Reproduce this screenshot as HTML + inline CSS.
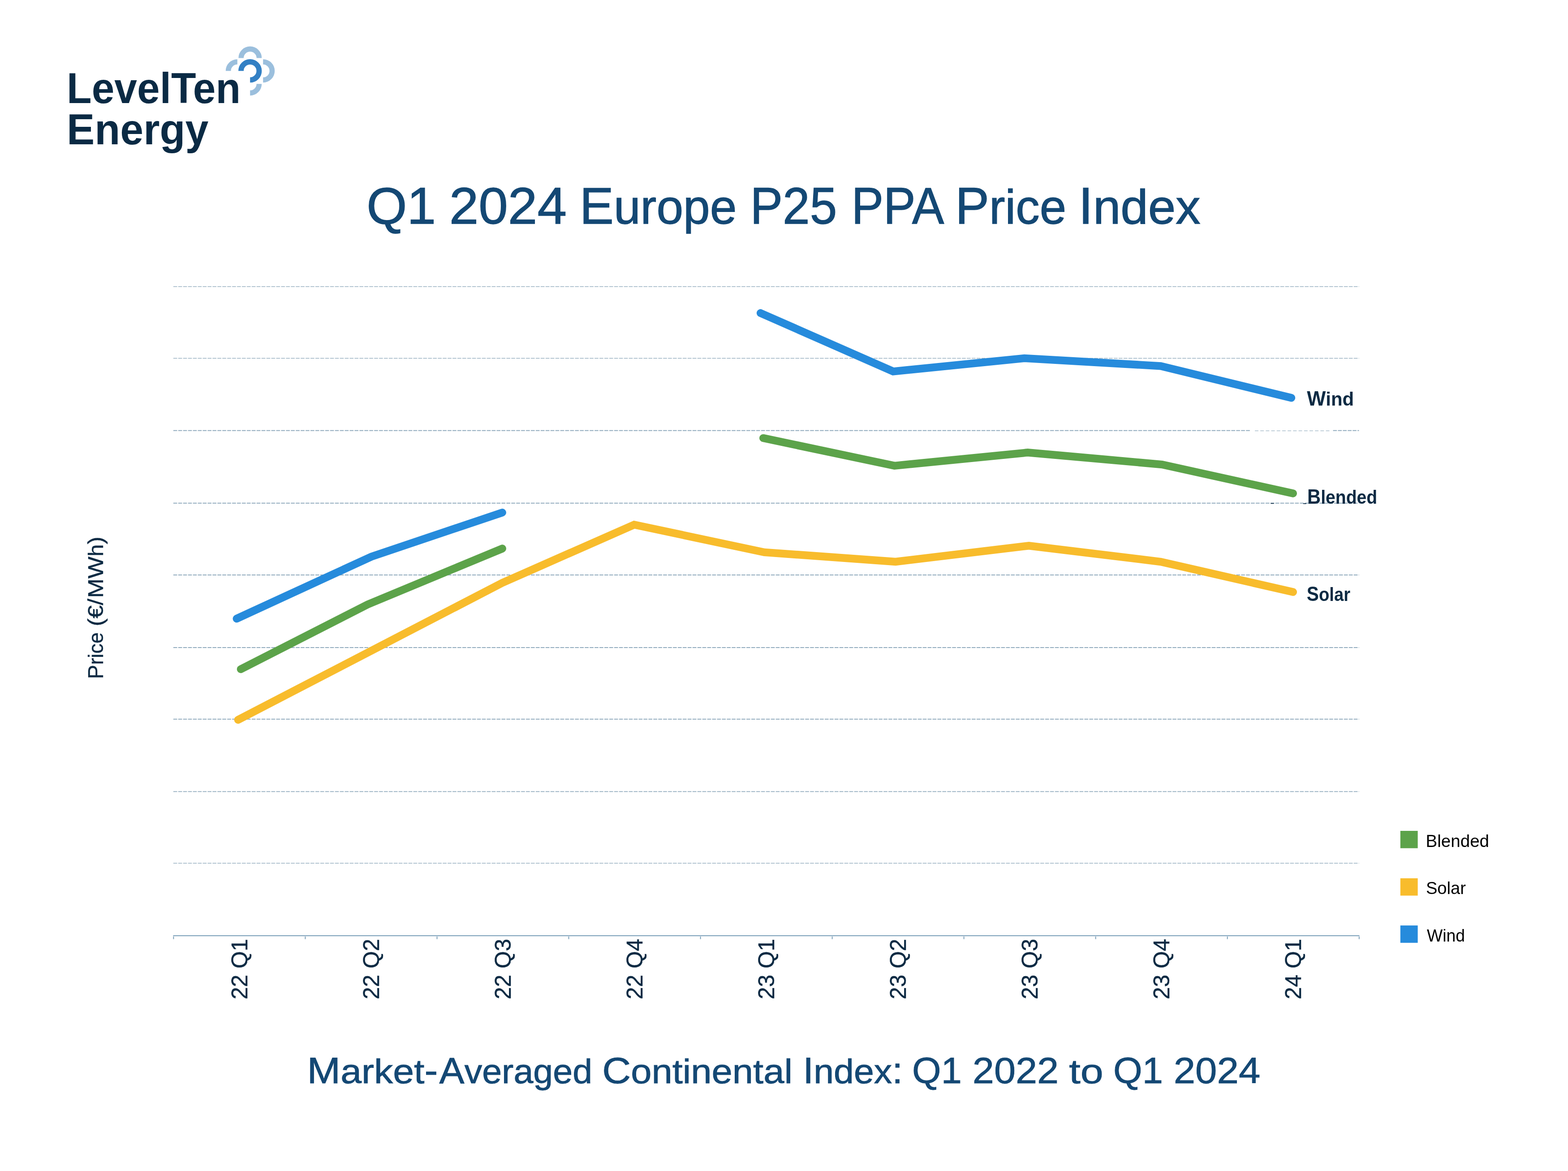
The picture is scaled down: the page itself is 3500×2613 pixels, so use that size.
<!DOCTYPE html>
<html lang="en"><head><meta charset="utf-8"><title>Q1 2024 Europe P25 PPA Price Index</title>
<style>html,body{margin:0;padding:0;background:#fff;}svg{display:block;}text{font-family:"Liberation Sans",sans-serif;}</style></head><body>
<svg width="3500" height="2613" viewBox="0 0 3500 2613">
<rect width="3500" height="2613" fill="#fff"/>
<g fill="none" stroke-dasharray="8.6 2.333">
<line x1="386.9" x2="3033.5" y1="639.4" y2="639.4" stroke="#92acbe" stroke-width="1.5" stroke-opacity="0.95"/>
<line x1="386.9" x2="3033.5" y1="799.4" y2="799.4" stroke="#92acbe" stroke-width="1.5" stroke-opacity="0.95"/>
<line x1="386.9" x2="2792" y1="960.8" y2="960.8" stroke="#92acbe" stroke-width="2" stroke-opacity="1"/>
<line x1="2801" x2="2972" y1="961.4" y2="961.4" stroke="#92acbe" stroke-width="1.1" stroke-opacity="0.9" stroke-dasharray="7.9 4.3"/>
<line x1="2975.5" x2="3033.5" y1="960.8" y2="960.8" stroke="#92acbe" stroke-width="2" stroke-opacity="1"/>
<line x1="386.9" x2="3033.5" y1="1122.7" y2="1122.7" stroke="#92acbe" stroke-width="2" stroke-opacity="1"/>
<line x1="386.9" x2="3033.5" y1="1282.9" y2="1282.9" stroke="#92acbe" stroke-width="2" stroke-opacity="1"/>
<line x1="386.9" x2="3033.5" y1="1444.9" y2="1444.9" stroke="#92acbe" stroke-width="2" stroke-opacity="1"/>
<line x1="386.9" x2="3033.5" y1="1604.8" y2="1604.8" stroke="#92acbe" stroke-width="2" stroke-opacity="1"/>
<line x1="386.9" x2="3033.5" y1="1766.4" y2="1766.4" stroke="#92acbe" stroke-width="1.7" stroke-opacity="1"/>
<line x1="386.9" x2="3033.5" y1="1926.3" y2="1926.3" stroke="#92acbe" stroke-width="1.5" stroke-opacity="0.95"/>
</g>
<rect x="2909" y="1123" width="7" height="1.6" fill="#0c2a43"/><rect x="2836.5" y="1122.6" width="7" height="1.6" fill="#0c2a43"/>
<line x1="386.4" x2="3034.5" y1="2087.9" y2="2087.9" stroke="#7a9fb9" stroke-width="2"/>
<line x1="387.4" x2="387.4" y1="2089.8" y2="2095.6" stroke="#7a9fb9" stroke-width="2"/>
<line x1="681.4" x2="681.4" y1="2089.8" y2="2095.6" stroke="#7a9fb9" stroke-width="2"/>
<line x1="975.5" x2="975.5" y1="2089.8" y2="2095.6" stroke="#7a9fb9" stroke-width="2"/>
<line x1="1269.5" x2="1269.5" y1="2089.8" y2="2095.6" stroke="#7a9fb9" stroke-width="2"/>
<line x1="1563.6" x2="1563.6" y1="2089.8" y2="2095.6" stroke="#7a9fb9" stroke-width="2"/>
<line x1="1857.6" x2="1857.6" y1="2089.8" y2="2095.6" stroke="#7a9fb9" stroke-width="2"/>
<line x1="2151.6" x2="2151.6" y1="2089.8" y2="2095.6" stroke="#7a9fb9" stroke-width="2"/>
<line x1="2445.7" x2="2445.7" y1="2089.8" y2="2095.6" stroke="#7a9fb9" stroke-width="2"/>
<line x1="2739.7" x2="2739.7" y1="2089.8" y2="2095.6" stroke="#7a9fb9" stroke-width="2"/>
<line x1="3033.8" x2="3033.8" y1="2089.8" y2="2095.6" stroke="#7a9fb9" stroke-width="2"/>
<g fill="none" stroke-width="17.4" stroke-linecap="round" stroke-linejoin="miter">
<polyline points="528.3,1380.5 829.2,1242.0 1121.2,1143.7" stroke="#268bdc"/>
<polyline points="537.5,1493.3 820.7,1348.8 1121.2,1224.1" stroke="#5ca34a"/>
<polyline points="531.4,1606.2 1121.2,1300.6 1415.6,1170.8 1706.2,1232.4 1999,1253.4 2296.7,1217.8 2590.9,1253.5 2886.3,1321.1" stroke="#f8bc2c"/>
<polyline points="1697.6,698.6 1993.6,828.8 2286.5,799.4 2590.9,816.8 2882.5,887.8" stroke="#268bdc"/>
<polyline points="1703.7,977.6 1996.6,1039.3 2294,1009.8 2593.9,1036.5 2886.3,1101" stroke="#5ca34a"/>
</g>
<g style="will-change:transform">
<text x="818.33" y="499.15" font-size="115.41" font-weight="normal" fill="#144874" stroke="#144874" stroke-width="1.3" textLength="154.67" lengthAdjust="spacingAndGlyphs">Q1</text>
<text x="1002.66" y="499.15" font-size="115.41" font-weight="normal" fill="#144874" stroke="#144874" stroke-width="1.3" textLength="262.33" lengthAdjust="spacingAndGlyphs">2024</text>
<text x="1293.64" y="499.15" font-size="115.41" font-weight="normal" fill="#144874" stroke="#144874" stroke-width="1.3" textLength="350.96" lengthAdjust="spacingAndGlyphs">E<tspan font-size="108.48">urope</tspan></text>
<text x="1674.43" y="499.15" font-size="115.41" font-weight="normal" fill="#144874" stroke="#144874" stroke-width="1.3" textLength="193.85" lengthAdjust="spacingAndGlyphs">P25</text>
<text x="1900.42" y="499.15" font-size="115.41" font-weight="normal" fill="#144874" stroke="#144874" stroke-width="1.3" textLength="207.06" lengthAdjust="spacingAndGlyphs">PPA</text>
<text x="2132.29" y="499.15" font-size="115.41" font-weight="normal" fill="#144874" stroke="#144874" stroke-width="1.3" textLength="247.81" lengthAdjust="spacingAndGlyphs">P<tspan font-size="108.48">rice</tspan></text>
<text x="2407.19" y="499.15" font-size="115.41" font-weight="normal" fill="#144874" stroke="#144874" stroke-width="1.3" textLength="272.36" lengthAdjust="spacingAndGlyphs">I<tspan font-size="108.48">ndex</tspan></text>
<text x="685.57" y="2416.95" font-size="81.11" font-weight="normal" fill="#144874" stroke="#144874" stroke-width="0.9" textLength="291.67" lengthAdjust="spacingAndGlyphs">M<tspan font-size="76.24">arket</tspan>-</text>
<text x="980.61" y="2416.95" font-size="81.11" font-weight="normal" fill="#144874" stroke="#144874" stroke-width="0.9" textLength="341.58" lengthAdjust="spacingAndGlyphs">A<tspan font-size="76.24">veraged</tspan></text>
<text x="1344.24" y="2416.95" font-size="81.11" font-weight="normal" fill="#144874" stroke="#144874" stroke-width="0.9" textLength="424.75" lengthAdjust="spacingAndGlyphs">C<tspan font-size="76.24">ontinental</tspan></text>
<text x="1792.35" y="2416.95" font-size="81.11" font-weight="normal" fill="#144874" stroke="#144874" stroke-width="0.9" textLength="222.65" lengthAdjust="spacingAndGlyphs">I<tspan font-size="76.24">ndex</tspan>:</text>
<text x="2036.14" y="2416.95" font-size="81.11" font-weight="normal" fill="#144874" stroke="#144874" stroke-width="0.9" textLength="110.77" lengthAdjust="spacingAndGlyphs">Q1</text>
<text x="2170.82" y="2416.95" font-size="81.11" font-weight="normal" fill="#144874" stroke="#144874" stroke-width="0.9" textLength="192.36" lengthAdjust="spacingAndGlyphs">2022</text>
<text x="2386.23" y="2416.95" font-size="81.11" font-weight="normal" fill="#144874" stroke="#144874" stroke-width="0.9" textLength="76.46" lengthAdjust="spacingAndGlyphs"><tspan font-size="76.24">to</tspan></text>
<text x="2484.96" y="2416.95" font-size="81.11" font-weight="normal" fill="#144874" stroke="#144874" stroke-width="0.9" textLength="110.93" lengthAdjust="spacingAndGlyphs">Q1</text>
<text x="2619.73" y="2416.95" font-size="81.11" font-weight="normal" fill="#144874" stroke="#144874" stroke-width="0.9" textLength="193.59" lengthAdjust="spacingAndGlyphs">2024</text>
<text x="2917.17" y="904.70" font-size="45.93" font-weight="bold" fill="#0c2a43" textLength="104.99" lengthAdjust="spacingAndGlyphs">W<tspan font-size="43.18">ind</tspan></text>
<text x="2918.10" y="1123.80" font-size="45.93" font-weight="bold" fill="#0c2a43" textLength="156.05" lengthAdjust="spacingAndGlyphs">B<tspan font-size="43.18">lended</tspan></text>
<text x="2916.86" y="1340.60" font-size="45.79" font-weight="bold" fill="#0c2a43" textLength="97.14" lengthAdjust="spacingAndGlyphs">S<tspan font-size="43.04">olar</tspan></text>
<text x="3182.59" y="1889.90" font-size="38.95" font-weight="normal" fill="#000" textLength="141.49" lengthAdjust="spacingAndGlyphs">Blended</text>
<text x="3182.93" y="1995.40" font-size="38.95" font-weight="normal" fill="#000" textLength="89.09" lengthAdjust="spacingAndGlyphs">Solar</text>
<text x="3184.96" y="2100.90" font-size="38.95" font-weight="normal" fill="#000" textLength="85.08" lengthAdjust="spacingAndGlyphs">Wind</text>
<text transform="translate(552.0,2230.1) rotate(-90)" font-size="49.42" fill="#0c2a43" stroke="#0c2a43" stroke-width="0.5" textLength="135.2" lengthAdjust="spacingAndGlyphs">22 Q1</text>
<text transform="translate(846.1,2230.1) rotate(-90)" font-size="49.42" fill="#0c2a43" stroke="#0c2a43" stroke-width="0.5" textLength="135.3" lengthAdjust="spacingAndGlyphs">22 Q2</text>
<text transform="translate(1140.1,2230.1) rotate(-90)" font-size="49.42" fill="#0c2a43" stroke="#0c2a43" stroke-width="0.5" textLength="135.2" lengthAdjust="spacingAndGlyphs">22 Q3</text>
<text transform="translate(1434.1,2230.1) rotate(-90)" font-size="49.42" fill="#0c2a43" stroke="#0c2a43" stroke-width="0.5" textLength="135.2" lengthAdjust="spacingAndGlyphs">22 Q4</text>
<text transform="translate(1728.2,2230.1) rotate(-90)" font-size="49.42" fill="#0c2a43" stroke="#0c2a43" stroke-width="0.5" textLength="135.2" lengthAdjust="spacingAndGlyphs">23 Q1</text>
<text transform="translate(2022.2,2230.1) rotate(-90)" font-size="49.42" fill="#0c2a43" stroke="#0c2a43" stroke-width="0.5" textLength="135.3" lengthAdjust="spacingAndGlyphs">23 Q2</text>
<text transform="translate(2316.3,2230.1) rotate(-90)" font-size="49.42" fill="#0c2a43" stroke="#0c2a43" stroke-width="0.5" textLength="135.2" lengthAdjust="spacingAndGlyphs">23 Q3</text>
<text transform="translate(2610.3,2230.1) rotate(-90)" font-size="49.42" fill="#0c2a43" stroke="#0c2a43" stroke-width="0.5" textLength="135.2" lengthAdjust="spacingAndGlyphs">23 Q4</text>
<text transform="translate(2904.3,2230.1) rotate(-90)" font-size="49.42" fill="#0c2a43" stroke="#0c2a43" stroke-width="0.5" textLength="135.2" lengthAdjust="spacingAndGlyphs">24 Q1</text>
<text transform="translate(230,1515.2) rotate(-90)" font-size="48.98" fill="#0c2a43" stroke="#0c2a43" stroke-width="0.4" textLength="104.2" lengthAdjust="spacingAndGlyphs">P<tspan font-size="46.04">rice</tspan></text>
<text transform="translate(230,1397.6) rotate(-90)" font-size="48.98" fill="#0c2a43" stroke="#0c2a43" stroke-width="0.4" textLength="61.8" lengthAdjust="spacingAndGlyphs">(€/</text>
<text transform="translate(230,1334.3) rotate(-90)" font-size="48.98" fill="#0c2a43" stroke="#0c2a43" stroke-width="0.4" textLength="137.2" lengthAdjust="spacingAndGlyphs">MW<tspan font-size="46.04">h</tspan>)</text>
</g>
<rect x="3125.8" y="1854" width="38.8" height="38.7" fill="#5ca34a"/>
<rect x="3125.8" y="1959.8" width="38.8" height="38.7" fill="#f8bc2c"/>
<rect x="3125.8" y="2065.1" width="38.8" height="38.7" fill="#268bdc"/>
<text x="149.1" y="229.8" font-size="97" font-weight="bold" fill="#0a2a44" textLength="388" lengthAdjust="spacingAndGlyphs">LevelTen</text>
<text x="149.1" y="322" font-size="97" font-weight="bold" fill="#0a2a44" textLength="316.3" lengthAdjust="spacingAndGlyphs">Energy</text>
<path d="M538.10,129.60 A20.2,20.2 0 0 1 578.50,129.60" fill="none" stroke="#9bbfdd" stroke-width="11.6"/>
<path d="M509.60,158.20 A20.2,20.2 0 0 1 529.80,138.00" fill="none" stroke="#9bbfdd" stroke-width="11.6"/>
<path d="M587.20,138.00 A20.2,20.2 0 0 1 587.20,178.40" fill="none" stroke="#9bbfdd" stroke-width="11.6"/>
<path d="M578.40,187.20 A20.2,20.2 0 0 1 558.20,207.40" fill="none" stroke="#9bbfdd" stroke-width="11.6"/>
<path d="M538.00,158.20 A20.2,20.2 0 1 1 558.20,178.40" fill="none" stroke="#3380c4" stroke-width="11.9"/>
</svg></body></html>
